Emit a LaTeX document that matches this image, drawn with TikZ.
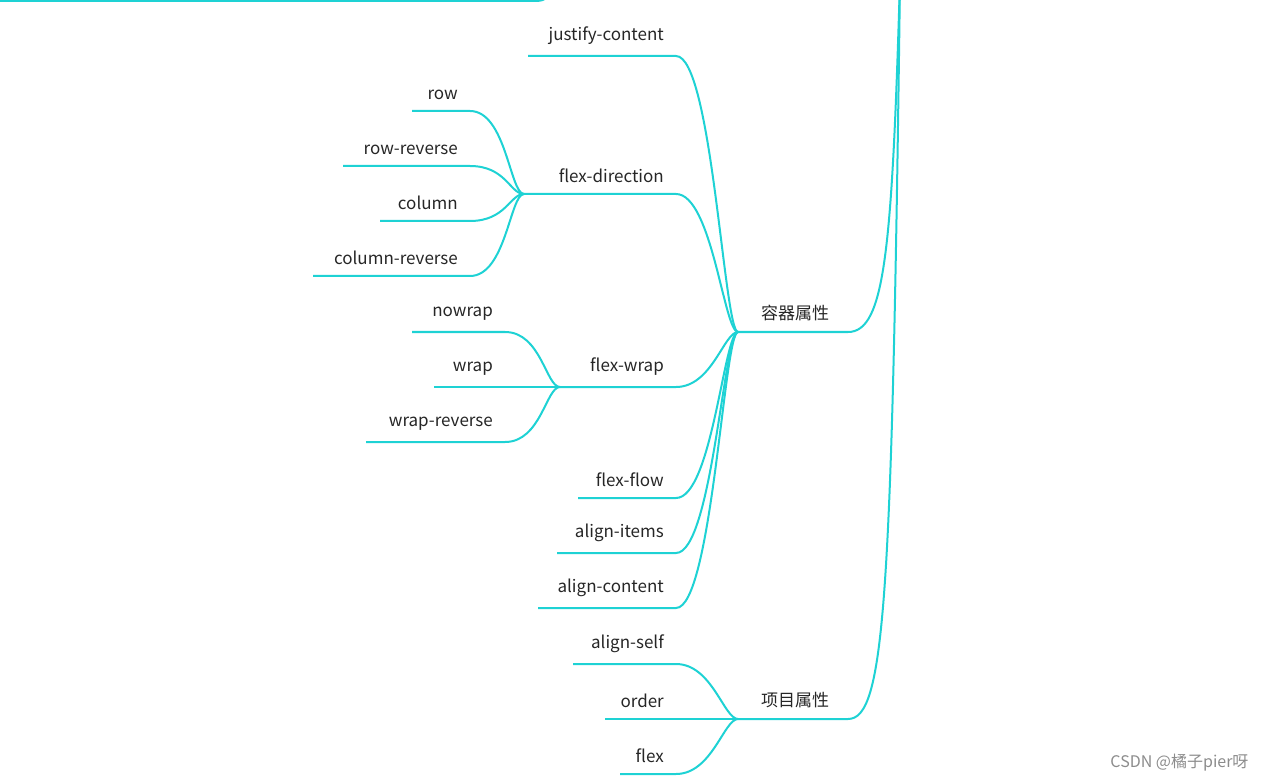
\documentclass[tikz,border=0pt]{standalone}
\usepackage{fontspec}
\setmainfont{Noto Sans CJK SC}
\usetikzlibrary{calc}
\definecolor{branch}{RGB}{30,210,212}
\tikzset{
  br/.style={draw=branch, line width=2pt},
  lbl/.style={anchor=south east, inner sep=0pt, font=\fontsize{17}{19}\selectfont, text=black!85},
}
\begin{document}
\begin{tikzpicture}[x=1pt, y=-1pt]
\useasboundingbox (0,0) rectangle (1268,783);
\clip (0,0) rectangle (1268,783);

% joins
\coordinate (root) at (900,-20);
\coordinate (cont) at (738,332);
\coordinate (item) at (738,719);
\coordinate (dir) at (524,194);
\coordinate (wrapj) at (560,387);

% top branch (cut off)
\coordinate (top-l) at (0,1);
\coordinate (top) at (530,1);
\draw[br] (top-l) -- (top) .. controls (545,1) .. (552,-12);

% main groups
\coordinate (cont-r) at (848,332);
\coordinate (item-r) at (848,719);
\node[lbl, anchor=south] at (795,321) {容器属性};
\node[lbl, anchor=south] at (795,708) {项目属性};
\draw[br] (cont) -- (cont-r) .. controls (885,332) and (892,250) .. (root);
\draw[br] (item) -- (item-r) .. controls (885,719) and (892,600) .. (root);

% leaves: name / left x / right x / y / text / join
\foreach \n/\xl/\xr/\y/\t/\j in {
  jc/528/676/56/justify-content/cont,
  fd/524/676/194/flex-direction/cont,
  fw/560/676/387/flex-wrap/cont,
  ff/578/676/498/flex-flow/cont,
  ai/557/676/553/align-items/cont,
  ac/538/676/608/align-content/cont,
  as/573/676/664/align-self/item,
  or/605/676/719/order/item,
  fl/620/676/774/flex/item,
  rw/412/470/111/row/dir,
  rr/343/470/166/row-reverse/dir,
  cl/380/470/221/column/dir,
  cr/313/470/276/column-reverse/dir,
  nw/412/505/332/nowrap/wrapj,
  wp/434/505/387/wrap/wrapj,
  wr/366/505/442/wrap-reverse/wrapj}{
  \coordinate (\n-l) at (\xl,\y);
  \coordinate (\n) at (\xr,\y);
  \node[lbl] (\n-t) at ($(\n)+(-12,-11)$) {\t};
  \draw[br] (\n-l) -- (\n) .. controls ($(\n)+(36,0)$) and ($(\j)+(-14,0)$) .. (\j);
}

\node[anchor=east, font=\fontsize{16}{18}\selectfont, text=black!45] (mark) at (1252,763) {CSDN @橘子pier呀};
\end{tikzpicture}
\end{document}
